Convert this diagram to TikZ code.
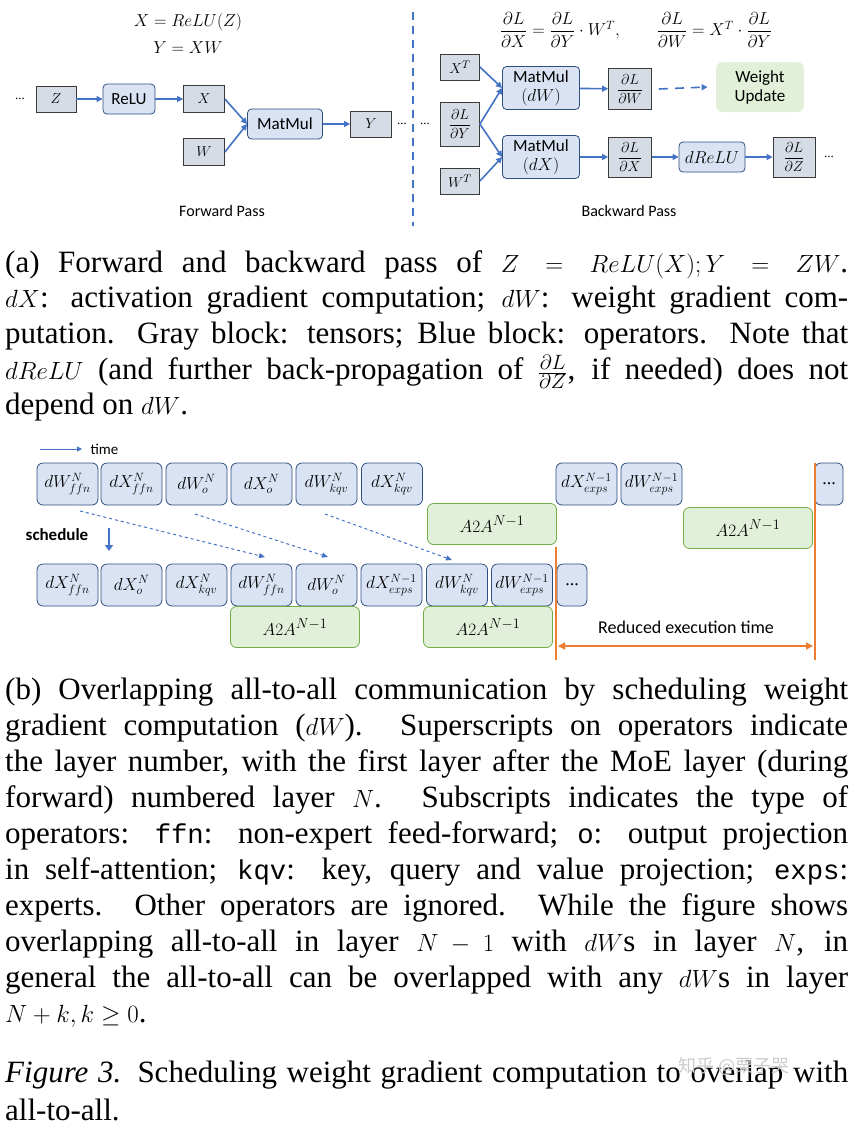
\documentclass[tikz,border=0pt]{standalone}
\usepackage{amsmath}
\usepackage{fontspec}
\setmainfont{Liberation Serif}
\setmonofont{Liberation Mono}[Scale=0.88]
\newfontfamily\dsans{Carlito}
\newfontfamily\cjk{Noto Sans CJK SC}
\usetikzlibrary{arrows.meta}
\definecolor{opf}{HTML}{DAE3F3}
\definecolor{opd}{HTML}{2F4F80}
\definecolor{tnf}{HTML}{D6DCE5}
\definecolor{tnd}{HTML}{3A3A3A}
\definecolor{arr}{HTML}{4472C4}
\definecolor{grf}{HTML}{E2F0D9}
\definecolor{grd}{HTML}{70AD47}
\definecolor{org}{HTML}{ED7D31}
\newcommand\capline[2]{\node[anchor=west,inner sep=0pt,font=\fontsize{31}{34}\selectfont] at (5,#1) {\hbox to 843pt{#2}};}
\newcommand\capend[2]{\node[anchor=west,inner sep=0pt,font=\fontsize{31}{34}\selectfont] at (5,#1) {#2};}
\begin{document}
\begin{tikzpicture}[x=1pt,y=-1pt,
  op/.style={draw=opd,fill=opf,rounded corners=4pt,line width=0.8pt,font=\dsans\fontsize{17}{19}\selectfont,inner sep=0pt,align=center},
  tn/.style={draw=tnd,fill=tnf,line width=0.8pt,font=\fontsize{15}{17}\selectfont,inner sep=0pt},
  sb/.style={draw=opd,fill=opf,rounded corners=6pt,line width=0.8pt,minimum width=61pt,minimum height=42pt,inner sep=0pt,font=\fontsize{18}{20}\selectfont},
  gb/.style={draw=grd,fill=grf,rounded corners=6pt,line width=0.8pt,minimum width=129pt,minimum height=41pt,inner sep=0pt,font=\fontsize{19}{21}\selectfont},
  ar/.style={draw=arr,line width=1.6pt,-{Triangle[length=6pt,width=6pt]}},
  da/.style={draw=arr,line width=1pt,dashed,-{Triangle[length=6pt,width=5pt]}},
  lbl/.style={font=\dsans\fontsize{16}{18}\selectfont},
  dots/.style={font=\fontsize{13}{15}\selectfont,inner sep=0pt}]
\useasboundingbox (0,0) rectangle (854,1130);
\fill[white] (0,0) rectangle (854,1130);
% forward
\node (eq1) at (188,22) {\fontsize{19}{22}\selectfont $X = ReLU(Z)$};
\node (eq2) at (188,48) {\fontsize{19}{22}\selectfont $Y = XW$};
\node[dots] (d0) at (20,99) {...};
\node[tn,minimum width=40pt,minimum height=26pt] (Z) at (56,99) {$Z$};
\node[op,minimum width=52pt,minimum height=30pt] (relu) at (129,99) {ReLU};
\node[tn,minimum width=41pt,minimum height=27pt] (X) at (204,99) {$X$};
\node[tn,minimum width=41pt,minimum height=27pt] (W) at (204,152) {$W$};
\node[op,minimum width=75pt,minimum height=30pt] (mm) at (285,124) {MatMul};
\node[tn,minimum width=41pt,minimum height=26pt] (Y) at (371,124) {$Y$};
\node[dots] (d1) at (402,124) {...};
\node[dots] (d2) at (425,124) {...};
\draw[ar] (Z) -- (relu); \draw[ar] (relu) -- (X);
\draw[ar] (X.east) -- (mm.west); \draw[ar] (W.east) -- (mm.west);
\draw[ar] (mm) -- (Y);
\coordinate (s1) at (413,12); \coordinate (s2) at (413,226);
\draw[arr,line width=1.6pt,dash pattern=on 8pt off 6pt] (s1) -- (s2);
\node[lbl] (fp) at (222,211) {Forward Pass};
% backward
\node (beq) at (636,30) {\fontsize{17}{20}\selectfont $\dfrac{\partial L}{\partial X}=\dfrac{\partial L}{\partial Y}\cdot W^T,\qquad \dfrac{\partial L}{\partial W}=X^T\cdot\dfrac{\partial L}{\partial Y}$};
\node[tn,minimum width=39pt,minimum height=26pt] (XT) at (460,67) {$X^T$};
\node[tn,minimum width=39pt,minimum height=44pt] (dY) at (460,124) {$\dfrac{\partial L}{\partial Y}$};
\node[tn,minimum width=39pt,minimum height=26pt] (WT) at (460,181) {$W^T$};
\node[op,minimum width=77pt,minimum height=43pt] (mw) at (541,88) {MatMul\\$(dW)$};
\node[op,minimum width=77pt,minimum height=43pt] (mx) at (541,157) {MatMul\\$(dX)$};
\node[tn,minimum width=43pt,minimum height=41pt] (dW) at (630,89) {$\dfrac{\partial L}{\partial W}$};
\node[tn,minimum width=43pt,minimum height=40pt] (dX) at (630,157) {$\dfrac{\partial L}{\partial X}$};
\node[op,draw=none,fill=grf,rounded corners=7pt,minimum width=88pt,minimum height=50pt] (wu) at (760,87) {Weight\\Update};
\node[op,minimum width=66pt,minimum height=30pt,font=\fontsize{17}{19}\selectfont] (drelu) at (712,157) {$dReLU$};
\node[tn,minimum width=42pt,minimum height=40pt] (dZ) at (794,157) {$\dfrac{\partial L}{\partial Z}$};
\node[dots] (d4) at (829,157) {...};
\draw[ar] (XT.east) -- (mw.west); \draw[ar] (dY.east) -- (mw.west);
\draw[ar] (dY.east) -- (mx.west); \draw[ar] (WT.east) -- (mx.west);
\draw[ar] (mw) -- (dW); \draw[ar] (mx) -- (dX);
\draw[arr,line width=1.6pt,dash pattern=on 9pt off 7pt,-{Triangle[length=6pt,width=6pt]}] ([xshift=7pt]dW.east) -- ([xshift=-8pt]wu.west);
\draw[ar] (dX) -- (drelu); \draw[ar] (drelu) -- (dZ);
\node[lbl] (bp) at (629,211) {Backward Pass};
% caption a
\capline{265}{(a) Forward and backward pass of $Z = ReLU(X); Y = ZW$.}
\capline{300}{$dX$: activation gradient computation; $dW$: weight gradient com-}
\capline{336}{putation. Gray block: tensors; Blue block: operators. Note that}
\capline{372}{$dReLU$ (and further back-propagation of $\frac{\partial L}{\partial Z}$, if needed) does not}
\capend{407}{depend on $dW$.}
% part b
\coordinate (t1) at (40,449); \coordinate (t2) at (82,449);
\draw[draw=arr,line width=1pt,-{Triangle[length=5pt,width=5pt]}] (t1) -- (t2);
\node[lbl,font=\dsans\fontsize{15}{17}\selectfont,anchor=west] (time) at (87,449) {time};
\node[sb] (a1) at (67.5,484) {$dW^N_{ffn}$};
\node[sb] (a2) at (131.5,484) {$dX^N_{ffn}$};
\node[sb] (a3) at (196.5,484) {$dW^N_{o}$};
\node[sb] (a4) at (261.5,484) {$dX^N_{o}$};
\node[sb] (a5) at (326.5,484) {$dW^N_{kqv}$};
\node[sb] (a6) at (392,484) {$dX^N_{kqv}$};
\node[sb] (a7) at (586.5,484) {$dX^{N-1}_{exps}$};
\node[sb] (a8) at (651.5,484) {$dW^{N-1}_{exps}$};
\node[sb,minimum width=28pt] (a9) at (829,484) {...};
\node[gb] (g1) at (492,524) {$A2A^{N-1}$};
\node[gb] (g2) at (748,528) {$A2A^{N-1}$};
\node[font=\dsans\bfseries\fontsize{17}{19}\selectfont] (sch) at (57,535) {schedule};
\coordinate (s3) at (109,528); \coordinate (s4) at (109,551);
\draw[draw=arr,line width=2.2pt,-{Triangle[length=6pt,width=8pt]}] (s3) -- (s4);
\node[sb] (b1) at (67.5,585) {$dX^N_{ffn}$};
\node[sb] (b2) at (131.5,585) {$dX^N_{o}$};
\node[sb] (b3) at (196.5,585) {$dX^N_{kqv}$};
\node[sb] (b4) at (261.5,585) {$dW^N_{ffn}$};
\node[sb] (b5) at (326.5,585) {$dW^N_{o}$};
\node[sb] (b6) at (391.5,585) {$dX^{N-1}_{exps}$};
\node[sb] (b7) at (457,585) {$dW^N_{kqv}$};
\node[sb] (b8) at (522,585) {$dW^{N-1}_{exps}$};
\node[sb,minimum width=30pt] (b9) at (572,585) {...};
\node[gb] (g3) at (295,627) {$A2A^{N-1}$};
\node[gb] (g4) at (488,627) {$A2A^{N-1}$};
\coordinate (c1) at (80,511); \coordinate (c2) at (265,557);
\coordinate (c3) at (195,514); \coordinate (c4) at (328,557);
\coordinate (c5) at (325,514); \coordinate (c6) at (452,560);
\draw[da] (c1) -- (c2); \draw[da] (c3) -- (c4); \draw[da] (c5) -- (c6);
\coordinate (o1) at (556,547); \coordinate (o2) at (556,660);
\coordinate (o3) at (815,463); \coordinate (o4) at (815,660);
\draw[org,line width=2pt] (o1) -- (o2); \draw[org,line width=2pt] (o3) -- (o4);
\coordinate (o5) at (558,646); \coordinate (o6) at (813,646);
\draw[org,line width=2pt,{Triangle[length=7pt,width=7pt]}-{Triangle[length=7pt,width=7pt]}] (o5) -- (o6);
\node[lbl,font=\dsans\fontsize{18}{20}\selectfont] (ret) at (686,627) {Reduced execution time};
% caption b
\capline{692}{(b) Overlapping all-to-all communication by scheduling weight}
\capline{728}{gradient computation ($dW$). Superscripts on operators indicate}
\capline{764}{the layer number, with the first layer after the MoE layer (during}
\capline{800}{forward) numbered layer $N$. Subscripts indicates the type of}
\capline{836}{operators: \texttt{ffn}: non-expert feed-forward; \texttt{o}: output projection}
\capline{872}{in self-attention; \texttt{kqv}: key, query and value projection; \texttt{exps}:}
\capline{908}{experts. Other operators are ignored. While the figure shows}
\capline{944}{overlapping all-to-all in layer $N-1$ with $dW$s in layer $N$, in}
\capline{980}{general the all-to-all can be overlapped with any $dW$s in layer}
\capend{1016}{$N+k, k\geq 0$.}
\capline{1075}{\textit{Figure 3.} Scheduling weight gradient computation to overlap with}
\capend{1110}{all-to-all.}
\node[font=\cjk\fontsize{18}{20}\selectfont,text=black!20,anchor=west] (wm) at (675,1066) {知乎 @栗子哭};
\end{tikzpicture}
\end{document}
